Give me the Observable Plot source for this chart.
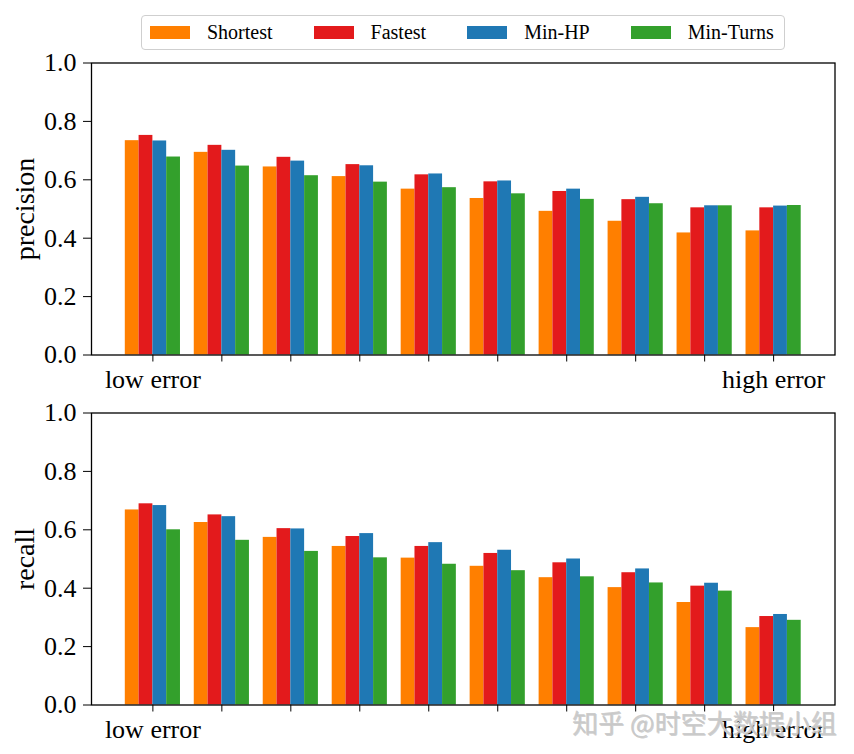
<!DOCTYPE html>
<html>
<head>
<meta charset="utf-8">
<script src="https://cdn.jsdelivr.net/npm/d3@7"></script>
<script src="https://cdn.jsdelivr.net/npm/@observablehq/plot@0.6"></script>
<style>
  html, body { margin: 0; padding: 0; background: white; }
  #page { position: relative; width: 854px; height: 754px; overflow: hidden; font-family: "Liberation Serif", "Times New Roman", serif; }
  #page svg { position: absolute; left: 0; background: transparent; }
  #legend {
    position: absolute; left: 141px; top: 15px; width: 634px; height: 33px;
    border: 1px solid #cfcfcf; border-radius: 4px; background: rgba(255,255,255,0.8);
    display: flex; align-items: center; padding-left: 8px; box-sizing: content-box;
    font-size: 20px; color: black; white-space: nowrap;
  }
  #legend .item { display: flex; align-items: center; margin-right: 41px; flex: none; }
  #legend .swatch { width: 40px; height: 13px; margin-right: 17px; flex: none; }
  #watermark {
    position: absolute; left: 572px; top: 703px; white-space: nowrap;
    font-family: "Noto Sans CJK SC", sans-serif; font-size: 26px;
    color: rgba(200,200,200,0.92);
    text-shadow: 1px 1px 0 rgba(120,120,120,0.35), -1px -1px 0 rgba(255,255,255,0.9);
  }
</style>
</head>
<body>
<div id="page"></div>
<script>
// Routing methods compared at ten error levels (low → high)
const methods = ["Shortest", "Fastest", "Min-HP", "Min-Turns"];
const colors = ["#ff7f00", "#e31a1c", "#1f78b4", "#33a02c"];
const levels = [0, 1, 2, 3, 4, 5, 6, 7, 8, 9];
const tickLabels = ["low error", "", "", "", "", "", "", "", "", "high error"];
const yTicks = [0, 0.2, 0.4, 0.6, 0.8, 1.0];

// precision per method, one value per error level
const precisionShortest = [0.734, 0.694, 0.644, 0.611, 0.568, 0.536, 0.492, 0.458, 0.418, 0.425];
const precisionFastest  = [0.752, 0.718, 0.677, 0.652, 0.617, 0.593, 0.560, 0.532, 0.504, 0.504];
const precisionMinHP    = [0.733, 0.701, 0.664, 0.648, 0.620, 0.596, 0.568, 0.540, 0.511, 0.510];
const precisionMinTurns = [0.678, 0.647, 0.614, 0.592, 0.573, 0.552, 0.533, 0.518, 0.511, 0.512];

// recall per method, one value per error level
const recallShortest = [0.668, 0.625, 0.574, 0.543, 0.503, 0.475, 0.436, 0.402, 0.351, 0.265];
const recallFastest  = [0.689, 0.651, 0.604, 0.577, 0.543, 0.519, 0.487, 0.453, 0.407, 0.303];
const recallMinHP    = [0.683, 0.645, 0.603, 0.587, 0.556, 0.530, 0.500, 0.466, 0.417, 0.310];
const recallMinTurns = [0.600, 0.564, 0.526, 0.504, 0.482, 0.460, 0.439, 0.418, 0.390, 0.290];

const barWidth = 0.2;

function toRows(series) {
  return methods.flatMap((m, j) =>
    series[j].map((v, i) => ({level: levels[i], method: m, slot: j, value: v})));
}

function panel(series, label, top, height, marginTop, marginBottom) {
  const data = toRows(series);
  const svg = Plot.plot({
    width: 854,
    height,
    marginLeft: 91,
    marginRight: 19.5,
    marginTop,
    marginBottom,
    style: {fontFamily: "'Liberation Serif', 'Times New Roman', serif", fontSize: "26px", color: "black", background: "transparent", overflow: "visible"},
    x: {domain: [-0.89, 9.89], ticks: levels, tickFormat: i => tickLabels[i], tickSize: 7, tickPadding: 8, label: null},
    y: {domain: [0, 1], ticks: yTicks, tickFormat: d3.format(".1f"), tickSize: 8, tickPadding: 7, label: null},
    color: {domain: methods, range: colors},
    marks: [
      Plot.rectY(data, {
        x1: d => d.level + barWidth * (d.slot - 2),
        x2: d => d.level + barWidth * (d.slot - 1),
        y: "value",
        fill: "method"
      }),
      Plot.frame({stroke: "black", strokeWidth: 1.3}),
      Plot.text([label], {frameAnchor: "left", dx: -66, rotate: -90, fontSize: 28, fill: "black", textAnchor: "middle", lineAnchor: "middle"})
    ]
  });
  svg.style.top = top + "px";
  return svg;
}

const page = document.getElementById("page");
page.appendChild(panel([precisionShortest, precisionFastest, precisionMinHP, precisionMinTurns],
  "precision", 0, 400, 62.5, 45.5));
page.appendChild(panel([recallShortest, recallFastest, recallMinHP, recallMinTurns],
  "recall", 400, 354, 12.5, 49.5));

// legend above the charts
const legend = document.createElement("div");
legend.id = "legend";
methods.forEach((m, j) => {
  const item = document.createElement("div");
  item.className = "item";
  const sw = document.createElement("div");
  sw.className = "swatch";
  sw.style.background = colors[j];
  const tx = document.createElement("span");
  tx.textContent = m;
  item.appendChild(sw);
  item.appendChild(tx);
  legend.appendChild(item);
});
page.appendChild(legend);

const wm = document.createElement("div");
wm.id = "watermark";
wm.textContent = "知乎 @时空大数据小组";
page.appendChild(wm);
</script>
</body>
</html>
